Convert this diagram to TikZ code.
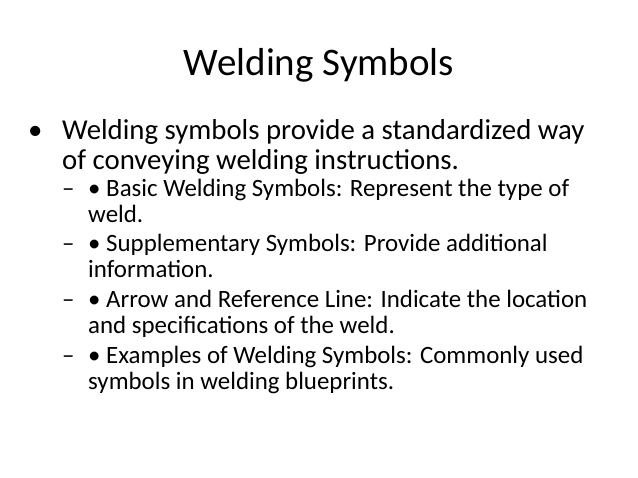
\documentclass[tikz,border=0pt]{standalone}
\usepackage{fontspec}
\setmainfont{Carlito}
\usetikzlibrary{positioning}
\tikzset{
  lvlone/.style={anchor=base west, inner sep=0pt, align=left,
    font=\fontsize{28.8}{30}\selectfont},
  lvltwo/.style={anchor=base west, inner sep=0pt, align=left,
    font=\fontsize{24.9}{25.5}\selectfont},
}
\begin{document}
\begin{tikzpicture}[x=1pt,y=1pt]
    \useasboundingbox[fill=white] (0,0) rectangle (638,-478);
    \def\subx{88}

    \node[anchor=base, inner sep=0pt, font=\fontsize{39}{44}\selectfont] (title) at (319,-76) {Welding Symbols};

    \node[lvlone] (dotmain) at (28,-140) {•};
    % multi-line nodes sit on their last baseline
    \node[lvlone] (main) at (62,-170) {Welding symbols provide a standardized way\\of conveying welding instructions.};

    \foreach \i/\y/\txt in {1/197/{• Basic Welding Symbols: Represent the type of\\weld.},
                            2/252/{• Supplementary Symbols: Provide additional\\information.},
                            3/308/{• Arrow and Reference Line: Indicate the location\\and specifications of the weld.},
                            4/364/{• Examples of Welding Symbols: Commonly used\\symbols in welding blueprints.}} {
        \node[lvltwo] (dash\i) at (62,-\y) {–};
        \node[lvltwo] (sub\i) at (\subx,-\y-25.5) {\txt};
    }
\end{tikzpicture}
\end{document}
